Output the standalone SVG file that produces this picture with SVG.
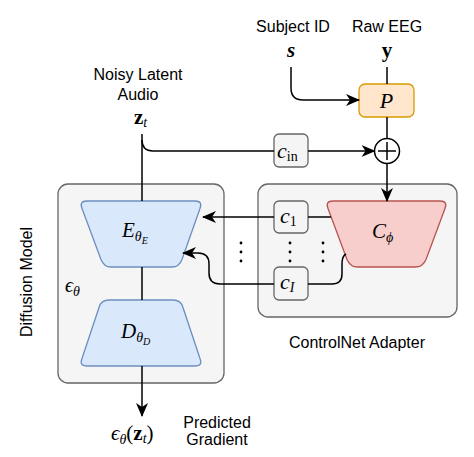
<svg xmlns="http://www.w3.org/2000/svg" width="474" height="457" viewBox="0 0 474 457">
<defs>
<style>
.lbl{font-family:"Liberation Sans",Arial,sans-serif;font-size:16px;fill:#000;text-anchor:middle}
.m{font-family:"Liberation Serif","DejaVu Serif",serif;font-style:italic;fill:#000}
.b{font-family:"Liberation Serif","DejaVu Serif",serif;font-weight:bold}
.up{font-style:normal}
.grp{fill:#f5f5f5;stroke:#666666;stroke-width:1.3}
.cbox{fill:#f5f5f5;stroke:#666666;stroke-width:1.3}
.blue{fill:#dae8fc;stroke:#6c8ebf;stroke-width:1.3}
.red{fill:#f8cecc;stroke:#b85450;stroke-width:1.3}
.or{fill:#ffe6cc;stroke:#d79b00;stroke-width:1.3}
.ln{fill:none;stroke:#000;stroke-width:1.5}
.dot{fill:#000}
</style>
<marker id="ah" viewBox="0 0 14 12" refX="13" refY="6" markerWidth="14" markerHeight="12" markerUnits="userSpaceOnUse" orient="auto">
<path d="M0,0 L14,6 L0,12 L4,6 Z" fill="#000"/>
</marker>
</defs>
<rect width="474" height="457" fill="#fff"/>

<g id="diffusion-model">
<rect class="grp" x="58" y="184" width="166" height="199" rx="10"/>
<text class="lbl" transform="translate(32,282) rotate(-90)">Diffusion Model</text>
<text class="m" x="65" y="292" font-size="20">ϵ<tspan font-size="14" dy="4">θ</tspan></text>
</g>

<g id="controlnet-adapter">
<rect class="grp" x="258" y="184" width="199" height="133" rx="10"/>
<text class="lbl" x="357" y="348">ControlNet Adapter</text>
</g>

<g id="encoder">
<path class="blue" d="M87 201 L195 201 Q203 201 200 208.5 L182 259.5 Q179 267 172 267 L111 267 Q104 267 101 259.5 L82 208.5 Q79 201 87 201 Z"/>
<text class="m" x="122" y="237" font-size="21">E<tspan font-size="14" dy="4">θ</tspan><tspan font-size="10" dy="3">E</tspan></text>
</g>

<g id="decoder">
<path class="blue" d="M109 300 L173 300 Q181 300 183 307.5 L200 358.5 Q203 366 195 366 L87 366 Q79 366 82 358.5 L99 307.5 Q101 300 109 300 Z"/>
<text class="m" x="121" y="338" font-size="21">D<tspan font-size="14" dy="4">θ</tspan><tspan font-size="10" dy="3">D</tspan></text>
</g>

<g id="cphi">
<path class="red" d="M333 201 L440 201 Q448 201 445 208.5 L426 259.5 Q423 267 415 267 L358 267 Q350 267 347 259.5 L328 208.5 Q325 201 333 201 Z"/>
<text class="m" x="372" y="238" font-size="21">C<tspan font-size="14" dy="4">ϕ</tspan></text>
</g>

<g id="P">
<rect class="or" x="359" y="84" width="55" height="33" rx="6"/>
<text class="m" x="386.5" y="108" font-size="22" text-anchor="middle">P</text>
</g>

<g id="plus">
<circle cx="387" cy="151" r="12.5" fill="#fff" stroke="#000" stroke-width="1.5"/>
<path class="ln" d="M378 151 H396 M387 142 V160"/>
</g>

<g id="c-in">
<rect class="cbox" x="274" y="134" width="34" height="33" rx="5"/>
<text class="m" x="277" y="158" font-size="22">c<tspan class="up" font-size="14" dy="3">in</tspan></text>
</g>

<g id="c-1">
<rect class="cbox" x="274" y="201" width="34" height="32" rx="5"/>
<text class="m" x="280" y="223" font-size="22">c<tspan class="up" font-size="14" dy="3">1</tspan></text>
</g>

<g id="c-I">
<rect class="cbox" x="274" y="267" width="34" height="33" rx="5"/>
<text class="m" x="280" y="289" font-size="22">c<tspan font-size="14" dy="3">I</tspan></text>
</g>

<g id="dots">
<circle class="dot" cx="241" cy="243" r="1.4"/><circle class="dot" cx="241" cy="252" r="1.4"/><circle class="dot" cx="241" cy="261" r="1.4"/>
<circle class="dot" cx="290" cy="243" r="1.4"/><circle class="dot" cx="290" cy="252" r="1.4"/><circle class="dot" cx="290" cy="261" r="1.4"/>
<circle class="dot" cx="323" cy="243" r="1.4"/><circle class="dot" cx="323" cy="252" r="1.4"/><circle class="dot" cx="323" cy="261" r="1.4"/>
</g>

<g id="inputs">
<text class="lbl" x="293" y="32">Subject ID</text>
<text class="lbl" x="387" y="32">Raw EEG</text>
<text class="m b" x="291" y="57" font-size="21" text-anchor="middle">s</text>
<text class="b" x="387" y="57" font-size="21" text-anchor="middle">y</text>
<text class="lbl" x="138" y="80">Noisy Latent</text>
<text class="lbl" x="138" y="100">Audio</text>
<text class="m" x="134" y="124" font-size="21"><tspan class="b" font-style="normal">z</tspan><tspan font-size="14" dy="3">t</tspan></text>
</g>

<g id="output">
<text class="m" x="111" y="440" font-size="21">ϵ<tspan font-size="14" dy="4">θ</tspan><tspan class="up" dy="-4">(</tspan><tspan class="b" font-style="normal">z</tspan><tspan font-size="14" dy="3">t</tspan><tspan class="up" dy="-3">)</tspan></text>
<text class="lbl" x="217" y="428">Predicted</text>
<text class="lbl" x="217" y="445">Gradient</text>
</g>

<g id="connectors">
<path class="ln" d="M387 67 V84"/>
<path class="ln" d="M291 67 V88 Q291 100 303 100 H359" marker-end="url(#ah)"/>
<path class="ln" d="M387 117 V138.5"/>
<path class="ln" d="M142 134 V201"/>
<path class="ln" d="M142 140 Q142 151 153 151 H274"/>
<path class="ln" d="M308 151 H374.5" marker-end="url(#ah)"/>
<path class="ln" d="M387 163.5 V201" marker-end="url(#ah)"/>
<path class="ln" d="M274 217 H203" marker-end="url(#ah)"/>
<path class="ln" d="M308 217 H331"/>
<path class="ln" d="M274 284 H220 Q209 284 209 273 V264 Q209 253 198 253 H183" marker-end="url(#ah)"/>
<path class="ln" d="M308 284 H332 Q342 284 342 274 V264 Q342 256 346 254"/>
<path class="ln" d="M142 267 V300"/>
<path class="ln" d="M142 366 V416" marker-end="url(#ah)"/>
</g>
</svg>
